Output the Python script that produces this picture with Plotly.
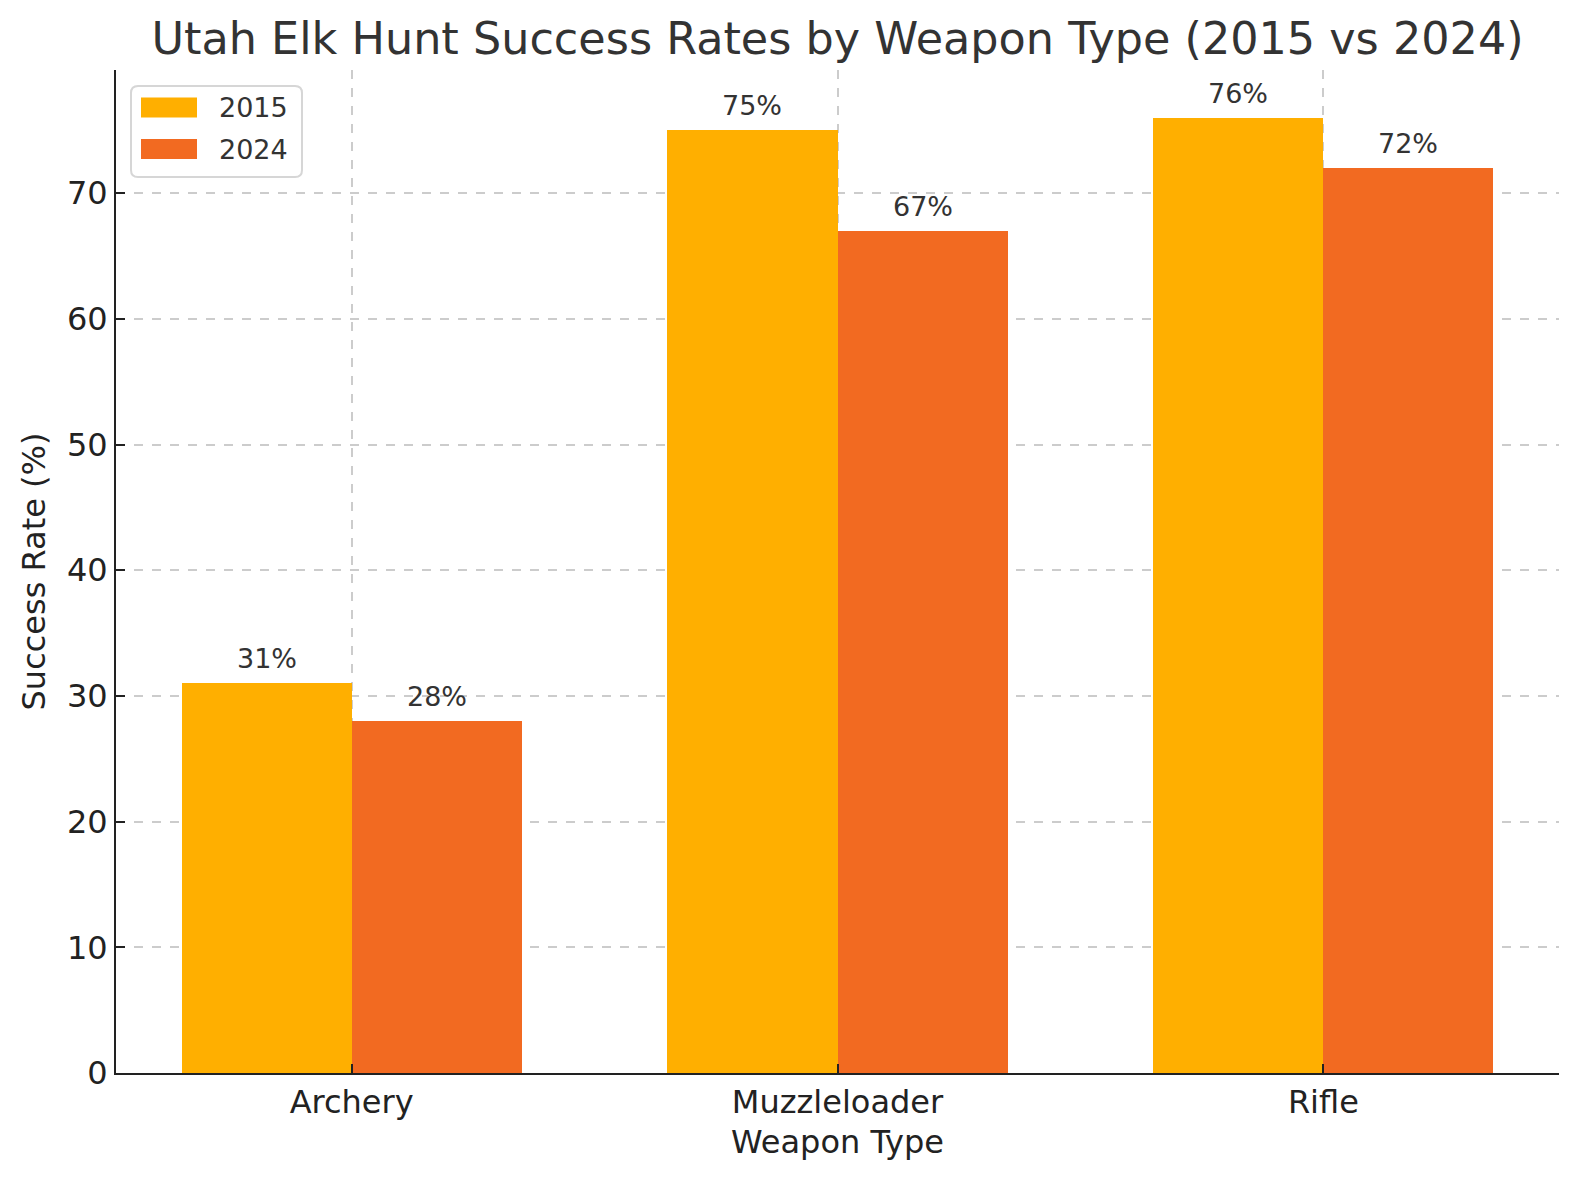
import plotly.graph_objects as go

categories = ["Archery", "Muzzleloader", "Rifle"]
rates_2015 = [31, 75, 76]
rates_2024 = [28, 67, 72]
years = ["2015", "2024"]
y_ticks = [0, 10, 20, 30, 40, 50, 60, 70]

C2015 = "#FFAF00"
C2024 = "#F26A21"
FONT = "DejaVu Sans"
TXT = "#333333"
W, H = 1580, 1180
ML, MR, MT, MB = 116, 21, 70, 107
PL, PR, PT, PB = ML, W - MR, MT, H - MB

xpos = list(range(len(categories)))
bw = 0.35

fig = go.Figure()
fig.add_trace(go.Bar(x=xpos, y=rates_2015, width=bw, offset=-bw, name=years[0], showlegend=False,
                     marker=dict(color=C2015, line=dict(width=0))))
fig.add_trace(go.Bar(x=xpos, y=rates_2024, width=bw, offset=0, name=years[1], showlegend=False,
                     marker=dict(color=C2024, line=dict(width=0))))

for xi, v in zip(xpos, rates_2015):
    fig.add_annotation(x=xi - bw / 2, y=v, text=f"{v}%", showarrow=False,
                       yanchor="bottom", yshift=7, font=dict(family=FONT, size=27, color=TXT))
for xi, v in zip(xpos, rates_2024):
    fig.add_annotation(x=xi + bw / 2, y=v, text=f"{v}%", showarrow=False,
                       yanchor="bottom", yshift=7, font=dict(family=FONT, size=27, color=TXT))

# custom legend (figure pixel -> plot-area paper conversion)
def px(x):
    return (x - PL) / (PR - PL)
def py(y):
    return (PB - y) / (PB - PT)

x0, y0, x1, y1, r = 131, 86, 302, 177, 7
path = (f"M {px(x0 + r)},{py(y0)} L {px(x1 - r)},{py(y0)} Q {px(x1)},{py(y0)} {px(x1)},{py(y0 + r)} "
        f"L {px(x1)},{py(y1 - r)} Q {px(x1)},{py(y1)} {px(x1 - r)},{py(y1)} "
        f"L {px(x0 + r)},{py(y1)} Q {px(x0)},{py(y1)} {px(x0)},{py(y1 - r)} "
        f"L {px(x0)},{py(y0 + r)} Q {px(x0)},{py(y0)} {px(x0 + r)},{py(y0)} Z")
fig.add_shape(type="path", path=path, xref="paper", yref="paper", layer="above",
              fillcolor="rgba(255,255,255,0.8)", line=dict(color="#d6d6d6", width=2))
for label, col, cy in [(years[0], C2015, 107.5), (years[1], C2024, 149)]:
    fig.add_shape(type="rect", xref="paper", yref="paper", layer="above",
                  x0=px(141), x1=px(197), y0=py(cy - 10), y1=py(cy + 10),
                  fillcolor=col, line=dict(width=0))
    fig.add_annotation(xref="paper", yref="paper", x=px(217), y=py(cy), xanchor="left", yanchor="middle",
                       text=label, showarrow=False, font=dict(family=FONT, size=27, color=TXT))

fig.update_layout(
    width=W, height=H,
    margin=dict(l=ML, r=MR, t=MT, b=MB),
    paper_bgcolor="white", plot_bgcolor="white",
    font=dict(family=FONT, color="#222222"),
    title=dict(text="Utah Elk Hunt Success Rates by Weapon Type (2015 vs 2024)",
               x=(PL + PR) / 2 / W, xanchor="center", y=1 - 38 / H, yanchor="middle",
               font=dict(family=FONT, size=44.5, color=TXT)),
    showlegend=False,
    bargap=0,
)
fig.update_xaxes(
    range=[-0.485, 2.485], tickvals=xpos, ticktext=categories,
    showline=True, linecolor="#222222", linewidth=2, mirror=False,
    ticks="inside", ticklen=9, tickwidth=2, tickcolor="#222222",
    tickfont=dict(family=FONT, size=32, color="#222222"),
    showgrid=True, gridcolor="#cccccc", griddash="dash", gridwidth=1.5,
    zeroline=False, layer="above traces",
    title=dict(text="Weapon Type", font=dict(family=FONT, size=32, color="#222222"), standoff=10),
)
fig.update_yaxes(
    range=[0, 79.8], tickvals=y_ticks,
    showline=True, linecolor="#222222", linewidth=2, mirror=False,
    ticks="inside", ticklen=9, tickwidth=2, tickcolor="#222222",
    tickfont=dict(family=FONT, size=32, color="#222222"),
    showgrid=True, gridcolor="#cccccc", griddash="dash", gridwidth=1.5,
    zeroline=False, layer="above traces",
    title=dict(text="Success Rate (%)", font=dict(family=FONT, size=32, color="#222222"), standoff=12),
)

fig.write_html("out.html")
